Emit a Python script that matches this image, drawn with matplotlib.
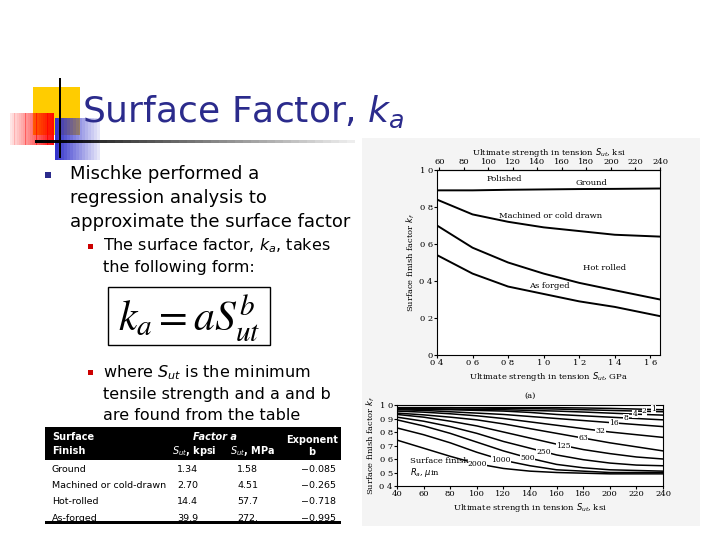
import matplotlib.pyplot as plt
from matplotlib.patches import Rectangle
import numpy as np

# upper chart data, x in GPa
gpa = [0.4, 0.6, 0.8, 1.0, 1.2, 1.4, 1.655]
polished = [1.0, 1.0, 1.0, 1.0, 1.0, 1.0, 1.0]
ground = [0.89, 0.89, 0.893, 0.895, 0.897, 0.898, 0.90]
machined = [0.84, 0.76, 0.72, 0.69, 0.67, 0.65, 0.64]
hot_rolled = [0.70, 0.58, 0.50, 0.44, 0.39, 0.35, 0.30]
as_forged = [0.54, 0.44, 0.37, 0.33, 0.29, 0.26, 0.21]

# lower chart data, x in ksi, one curve per roughness Ra (uin)
ksi = [40, 60, 80, 100, 120, 140, 160, 180, 200, 220, 240]
ra = ['1', '2', '4', '8', '16', '32', '63', '125', '250', '500', '1000', '2000']
ka_ra = [
    [0.98, 0.98, 0.98, 0.98, 0.98, 0.98, 0.98, 0.978, 0.975, 0.97, 0.965],
    [0.98, 0.98, 0.98, 0.978, 0.975, 0.973, 0.97, 0.965, 0.96, 0.955, 0.95],
    [0.975, 0.973, 0.97, 0.968, 0.965, 0.96, 0.955, 0.948, 0.94, 0.932, 0.925],
    [0.97, 0.968, 0.965, 0.96, 0.955, 0.945, 0.93, 0.92, 0.91, 0.90, 0.89],
    [0.965, 0.96, 0.95, 0.94, 0.93, 0.915, 0.90, 0.885, 0.87, 0.855, 0.84],
    [0.955, 0.947, 0.935, 0.92, 0.90, 0.875, 0.85, 0.825, 0.80, 0.78, 0.76],
    [0.94, 0.927, 0.91, 0.89, 0.86, 0.825, 0.79, 0.755, 0.72, 0.69, 0.66],
    [0.93, 0.91, 0.88, 0.845, 0.80, 0.755, 0.71, 0.67, 0.64, 0.615, 0.60],
    [0.91, 0.88, 0.84, 0.79, 0.73, 0.68, 0.63, 0.595, 0.57, 0.555, 0.55],
    [0.89, 0.845, 0.79, 0.725, 0.66, 0.605, 0.56, 0.535, 0.52, 0.515, 0.51],
    [0.83, 0.78, 0.72, 0.65, 0.59, 0.55, 0.52, 0.51, 0.50, 0.50, 0.50],
    [0.74, 0.68, 0.62, 0.565, 0.53, 0.51, 0.50, 0.495, 0.49, 0.49, 0.49],
]
label_x = [233, 226, 219, 212, 203, 193, 180, 165, 150, 138, 118, 100]

# table
finish = ['Ground', 'Machined or cold-drawn', 'Hot-rolled', 'As-forged']
a_kpsi = ['1.34', '2.70', '14.4', '39.9']
a_mpa = ['1.58', '4.51', '57.7', '272.']
b_exp = ['\u22120.085', '\u22120.265', '\u22120.718', '\u22120.995']

W, H = 720, 540
fig = plt.figure(figsize=(7.2, 5.4), dpi=100)

def px(x, y):
    return x / W, 1 - y / H

def rect(x, y, w, h, z=1, **kw):
    fig.patches.append(Rectangle(px(x, y + h), w / W, h / H, transform=fig.transFigure,
                                 zorder=z, **kw))

def txt(x, y, s, **kw):
    fig.text(*px(x, y), s, **kw)

# title decoration
rect(33, 87, 47, 48, color='#FFCC00', lw=0)
for i in range(15):
    rect(55 + i * 3, 118, 3.1, 42, color='#3333CC', alpha=1 - i / 16, lw=0)
for i in range(20):
    rect(10 + i * 2.2, 113, 2.3, 32, color='red', alpha=0.1 + i * 0.045, lw=0)
rect(59, 78, 2, 80, color='black', lw=0)
for i in range(40):
    rect(35 + i * 8, 140, 8.2, 3, color='black', alpha=1 - i / 42, lw=0)
txt(82, 112, 'Surface Factor, $k_a$', fontsize=26, color='#2B2B8C', va='center')

# bullets
rect(45, 172, 6, 6, color='#2B2B8C', lw=0)
for i, s in enumerate(['Mischke performed a', 'regression analysis to',
                       'approximate the surface factor']):
    txt(70, 174 + i * 24, s, fontsize=13, va='center')
rect(88, 244, 5, 5, color='#CC0000', lw=0)
txt(103, 246, r'The surface factor, $k_a$, takes', fontsize=11.5, va='center')
txt(103, 268, 'the following form:', fontsize=11.5, va='center')
rect(108, 287, 162, 58, fill=False, ec='black', lw=1)
txt(189, 318, r'$k_a = aS_{ut}^b$', fontsize=30, ha='center', va='center', math_fontfamily='stix')
rect(88, 370, 5, 5, color='#CC0000', lw=0)
txt(103, 373, r'where $S_{ut}$ is the minimum', fontsize=11.5, va='center')
txt(103, 395, 'tensile strength and a and b', fontsize=11.5, va='center')
txt(103, 416, 'are found from the table', fontsize=11.5, va='center')

# table
rect(45, 427, 296, 33, color='black', lw=0)
hw = dict(color='white', fontsize=7, fontweight='bold', va='center')
txt(52, 437, 'Surface', **hw)
txt(52, 451, 'Finish', **hw)
txt(215, 437, 'Factor a', ha='center', style='italic', **hw)
txt(172, 451, r'$S_{ut}$, kpsi', **hw)
txt(230, 451, r'$S_{ut}$, MPa', **hw)
txt(312, 440, 'Exponent', ha='center', **hw)
txt(312, 452, 'b', ha='center', **hw)
for i in range(4):
    y = 469 + i * 16.5
    txt(52, y, finish[i], fontsize=6.8, va='center')
    txt(198, y, a_kpsi[i], fontsize=6.8, va='center', ha='right')
    txt(258, y, a_mpa[i], fontsize=6.8, va='center', ha='right')
    txt(336, y, b_exp[i], fontsize=6.8, va='center', ha='right')
rect(45, 521, 296, 3, color='black', lw=0)

# chart backgrounds
rect(362, 138, 338, 280, z=-5, color='#F4F4F4', lw=0)
rect(362, 398, 338, 128, z=-5, color='#F4F4F4', lw=0)

sf = dict(family='serif', fontsize=6)

# upper chart
ax = fig.add_axes([437 / W, 1 - 355 / H, 223 / W, 185 / H])
ax.set_facecolor('white')
for y in [polished, ground, machined, hot_rolled, as_forged]:
    ax.plot(gpa, y, color='black', lw=1.4)
ax.set_xlim(0.4, 240 / 145.04)
ax.set_ylim(0, 1.0)
ax.set_xticks([0.4, 0.6, 0.8, 1.0, 1.2, 1.4, 1.6])
ax.set_xticklabels(['0 4', '0 6', '0 8', '1 0', '1 2', '1 4', '1 6'], **sf)
ax.set_yticks([0, 0.2, 0.4, 0.6, 0.8, 1.0])
ax.set_yticklabels(['0', '0 2', '0 4', '0 6', '0 8', '1 0'], **sf)
ax.tick_params(length=2, pad=1)
ax.set_xlabel(r'Ultimate strength in tension $S_{ut}$, GPa', labelpad=2, **sf)
ax.set_ylabel(r'Surface finish factor $k_f$', labelpad=2, **sf)
top = ax.secondary_xaxis('top', functions=(lambda g: g * 145.04, lambda k: k / 145.04))
top.set_xticks(range(60, 241, 20))
top.set_xticklabels([str(v) for v in range(60, 241, 20)], **sf)
top.tick_params(length=2, pad=1)
top.set_xlabel(r'Ultimate strength in tension $S_{ut}$, ksi', labelpad=2, **sf)
ax.text(0.78, 0.94, 'Polished', ha='center', **sf)
ax.text(1.27, 0.92, 'Ground', ha='center', **sf)
ax.text(0.75, 0.74, 'Machined or cold drawn', **sf)
ax.text(1.22, 0.46, 'Hot rolled', **sf)
ax.text(0.92, 0.36, 'As forged', **sf)
fig.text(*px(530, 398), '(a)', ha='center', **sf)

# lower chart
ax2 = fig.add_axes([397 / W, 1 - 486 / H, 266 / W, 81 / H])
ax2.set_facecolor('white')
for r, vals, lx in zip(ra, ka_ra, label_x):
    ax2.plot(ksi, vals, color='black', lw=1.1)
    ly = np.interp(lx, ksi, vals)
    ax2.text(lx, ly, r, ha='center', va='center', fontsize=5.5, family='serif',
             bbox=dict(fc='white', ec='none', pad=0.2))
ax2.set_xlim(40, 240)
ax2.set_ylim(0.4, 1.0)
ax2.set_xticks(range(40, 241, 20))
ax2.set_xticklabels([str(v) for v in range(40, 241, 20)], **sf)
ax2.set_yticks([0.4, 0.5, 0.6, 0.7, 0.8, 0.9, 1.0])
ax2.set_yticklabels(['0 4', '0 5', '0 6', '0 7', '0 8', '0 9', '1 0'], **sf)
ax2.tick_params(length=2, pad=1)
ax2.set_xlabel(r'Ultimate strength in tension $S_{ut}$, ksi', labelpad=2, **sf)
ax2.set_ylabel(r'Surface finish factor $k_f$', labelpad=2, **sf)
ax2.text(50, 0.57, 'Surface finish', **sf)
ax2.text(50, 0.48, r'$R_a$, $\mu$in', **sf)

fig.savefig('out.png', dpi=100)
